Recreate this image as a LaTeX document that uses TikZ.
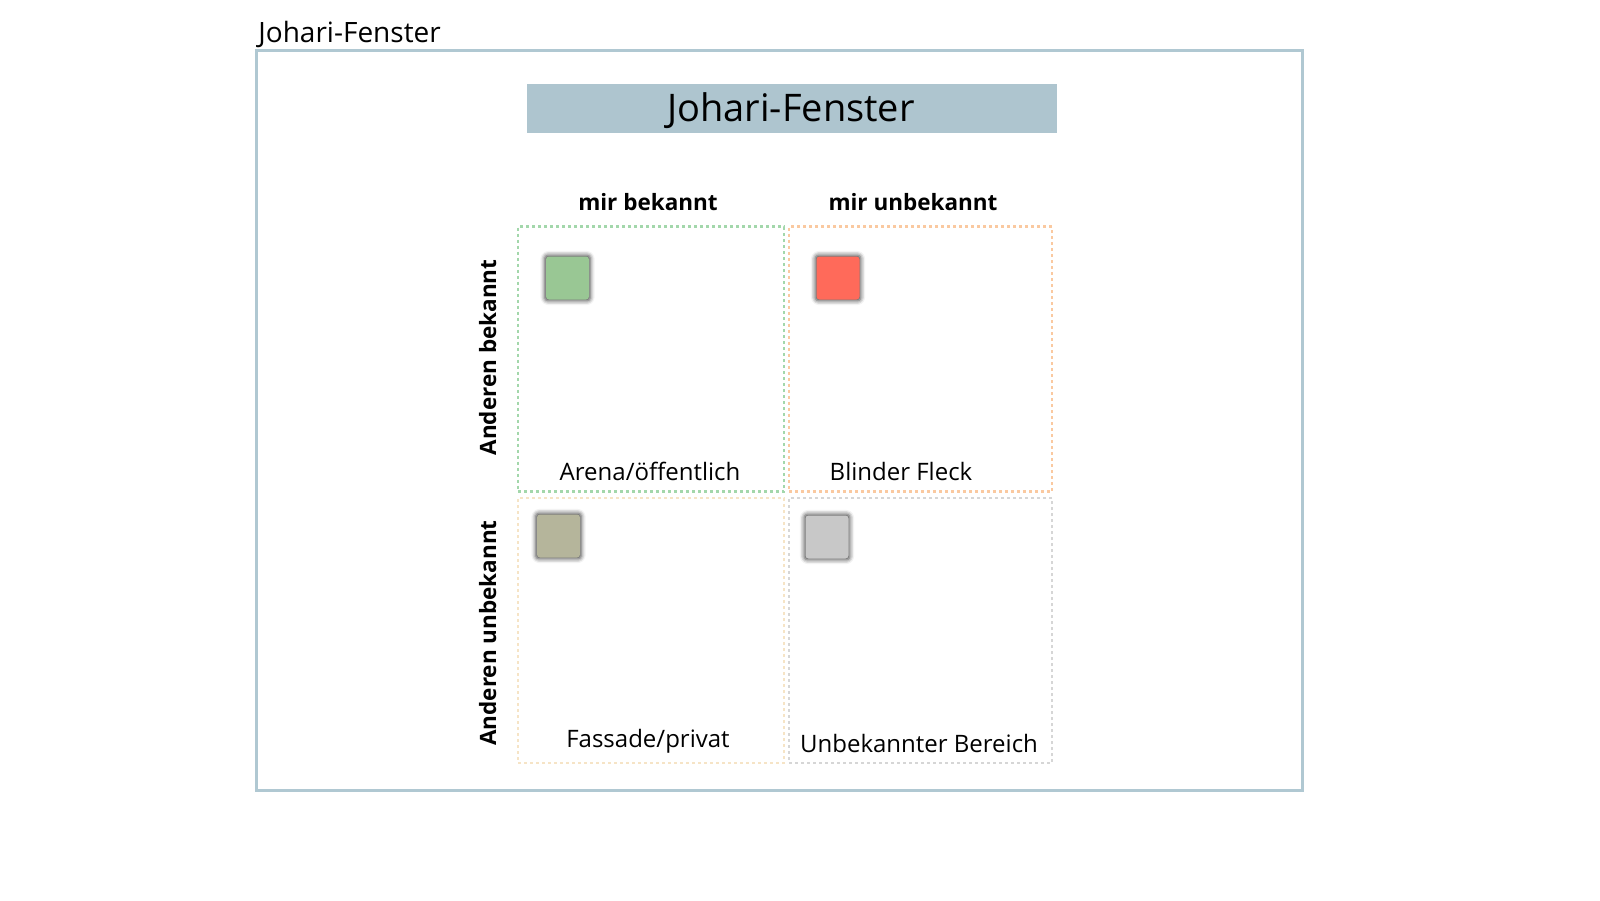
\documentclass[tikz,border=0pt]{standalone}
\usepackage{fontspec}
\setmainfont{Open Sans}
\usetikzlibrary{positioning,shadows.blur}
\definecolor{rahmen}{HTML}{B0C8D2}
\definecolor{kopffarbe}{HTML}{AEC5CF}
\definecolor{gruenrand}{HTML}{A3D7AB}
\definecolor{orangerand}{HTML}{FAC9A0}
\definecolor{beigerand}{HTML}{F6E4C6}
\definecolor{graurand}{HTML}{D6D6D6}
\definecolor{gruen}{HTML}{99C794}
\definecolor{rot}{HTML}{FF6A5A}
\definecolor{beige}{HTML}{B5B59B}
\definecolor{grau}{HTML}{C8C8C8}

\begin{document}
\begin{tikzpicture}[x=0.5pt,y=-0.5pt,
feld/.style={draw,line width=1.25pt,dash pattern=on 1.5pt off 1.5pt,minimum height=132.5pt,inner sep=0pt},
marke/.style={rounded corners=1.5pt,minimum size=21.5pt,inner sep=0pt,
blur shadow={shadow xshift=0pt,shadow yshift=0pt,shadow blur radius=2pt,shadow scale=1.06,shadow opacity=75}},
kopf/.style={font=\bfseries\fontsize{11.25}{13}\selectfont,inner sep=0pt,anchor=base},
bereich/.style={font=\fontsize{12}{14}\selectfont,inner sep=0pt,anchor=base}]
\useasboundingbox (0,0) rectangle (1600,900);
\draw[rahmen,line width=1.5pt] (256,50) rectangle (1302,790);
\node[font=\fontsize{14}{16}\selectfont,inner sep=0pt,anchor=base west] (titel) at (258,42) {Johari-Fenster};
\node[fill=kopffarbe,minimum width=265pt,minimum height=24.5pt] (kopf) at (792,108.5) {};
\node[font=\fontsize{19}{22}\selectfont,inner sep=0pt,anchor=base] (kopftext) at (791,121) {Johari-Fenster};

\node[kopf] (sp1) at (648,210) {mir bekannt};
\node[kopf] (sp2) at (913,210) {mir unbekannt};
\node[kopf,rotate=90] (ze1) at (496,357.5) {Anderen bekannt};
\node[kopf,rotate=90] (ze2) at (496,633) {Anderen unbekannt};

\node[feld,draw=gruenrand,minimum width=133pt] (arena) at (651,359) {};
\node[feld,draw=orangerand,minimum width=131.5pt] (blind) at (920.5,359) {};
\node[feld,draw=beigerand,minimum width=133pt] (fassade) at (651,630.5) {};
\node[feld,draw=graurand,minimum width=131.5pt] (unbekannt) at (920.5,630.5) {};

\node[marke,fill=gruen] (m1) at (567.5,278) {};
\node[marke,fill=rot] (m2) at (838,278) {};
\node[marke,fill=beige] (m3) at (558.5,536) {};
\node[marke,fill=grau] (m4) at (827,537) {};

\node[bereich] (t1) at (650,480) {Arena/öffentlich};
\node[bereich] (t2) at (901,480) {Blinder Fleck};
\node[bereich] (t3) at (648,747) {Fassade/privat};
\node[bereich] (t4) at (919,752) {Unbekannter Bereich};
\end{tikzpicture}
\end{document}
